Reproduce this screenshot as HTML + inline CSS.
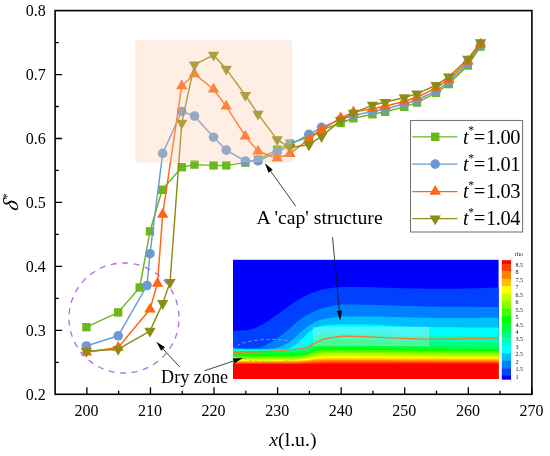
<!DOCTYPE html>
<html lang="en">
<head>
<meta charset="utf-8">
<title>Film thickness profile</title>
<style>
html,body{margin:0;padding:0;background:#fff;}
body{width:550px;height:456px;overflow:hidden;font-family:"Liberation Serif",serif;}
svg{display:block;}
</style>
</head>
<body>
<svg width="550" height="456" viewBox="0 0 550 456">
<g>
<rect x="233.0" y="259.8" width="265.6" height="119.2" fill="#0000ff"/>
<polygon fill="#0040ff" points="233,330.9 235.44,330.87 237.87,330.77 240.31,330.62 242.75,330.42 245.18,330.18 247.62,329.9 250.06,329.59 252.49,329.06 254.93,328.2 257.37,327.07 259.8,325.78 262.24,324.39 264.68,323 267.11,321.6 269.55,320.03 271.99,318.31 274.42,316.52 276.86,314.69 279.3,312.9 281.73,311.18 284.17,309.47 286.61,307.76 289.04,306.05 291.48,304.29 293.92,302.56 296.35,300.94 298.79,299.43 301.23,298 303.66,296.67 306.1,295.41 308.54,294.22 310.97,293.17 313.41,292.25 315.85,291.44 318.28,290.72 320.72,290.09 323.16,289.5 325.59,288.96 328.03,288.5 330.47,288.14 332.9,287.8 335.34,287.48 337.78,287.2 340.21,287 342.65,286.9 345.09,286.9 347.52,286.91 349.96,286.93 352.4,286.95 354.83,286.97 357.27,287 359.71,287.03 362.14,287.06 364.58,287.09 367.02,287.13 369.46,287.18 371.89,287.25 374.33,287.32 376.77,287.4 379.2,287.48 381.64,287.57 384.08,287.66 386.51,287.76 388.95,287.85 391.39,287.94 393.82,288.02 396.26,288.1 398.7,288.17 401.13,288.23 403.57,288.29 406.01,288.35 408.44,288.41 410.88,288.46 413.32,288.51 415.75,288.55 418.19,288.59 420.63,288.6 423.06,288.62 425.5,288.63 427.94,288.64 430.37,288.65 432.81,288.66 435.25,288.67 437.68,288.68 440.12,288.69 442.56,288.69 444.99,288.7 447.43,288.7 449.87,288.7 452.3,288.7 454.74,288.69 457.18,288.67 459.61,288.64 462.05,288.61 464.49,288.57 466.92,288.53 469.36,288.48 471.8,288.42 474.23,288.36 476.67,288.29 479.11,288.22 481.54,288.14 483.98,288.06 486.42,287.98 488.85,287.89 491.29,287.79 493.73,287.7 496.16,287.6 498.6,287.5 498.6,379.0 233,379.0"/>
<polygon fill="#0080ff" points="233,348.2 235.44,348.27 237.87,348.33 240.31,348.36 242.75,348.38 245.18,348.4 247.62,348.4 250.06,348.4 252.49,348.37 254.93,348.27 257.37,348.13 259.8,347.88 262.24,347 264.68,345.76 267.11,344.53 269.55,343.17 271.99,341.68 274.42,340.08 276.86,338.42 279.3,336.7 281.73,334.95 284.17,333.08 286.61,331.1 289.04,329.04 291.48,326.79 293.92,324.5 296.35,322.4 298.79,320.5 301.23,318.72 303.66,317.09 306.1,315.58 308.54,314.19 310.97,312.91 313.41,311.74 315.85,310.65 318.28,309.69 320.72,308.86 323.16,308.11 325.59,307.42 328.03,306.82 330.47,306.31 332.9,305.8 335.34,305.31 337.78,304.88 340.21,304.56 342.65,304.41 345.09,304.4 347.52,304.42 349.96,304.44 352.4,304.47 354.83,304.51 357.27,304.56 359.71,304.6 362.14,304.65 364.58,304.69 367.02,304.74 369.46,304.79 371.89,304.85 374.33,304.91 376.77,304.98 379.2,305.05 381.64,305.12 384.08,305.2 386.51,305.28 388.95,305.36 391.39,305.43 393.82,305.51 396.26,305.59 398.7,305.66 401.13,305.73 403.57,305.81 406.01,305.89 408.44,305.97 410.88,306.05 413.32,306.12 415.75,306.19 418.19,306.26 420.63,306.31 423.06,306.37 425.5,306.42 427.94,306.47 430.37,306.53 432.81,306.58 435.25,306.62 437.68,306.66 440.12,306.7 442.56,306.74 444.99,306.76 447.43,306.79 449.87,306.8 452.3,306.81 454.74,306.82 457.18,306.83 459.61,306.83 462.05,306.84 464.49,306.85 466.92,306.86 469.36,306.86 471.8,306.87 474.23,306.87 476.67,306.88 479.11,306.88 481.54,306.89 483.98,306.89 486.42,306.89 488.85,306.9 491.29,306.9 493.73,306.9 496.16,306.9 498.6,306.9 498.6,379.0 233,379.0"/>
<polygon fill="#00bfff" points="233,348.7 235.44,348.74 237.87,348.78 240.31,348.82 242.75,348.85 245.18,348.88 247.62,348.89 250.06,348.9 252.49,348.9 254.93,348.9 257.37,348.9 259.8,348.9 262.24,348.9 264.68,348.9 267.11,348.88 269.55,348.78 271.99,348.62 274.42,348.38 276.86,348.02 279.3,347.04 281.73,345.96 284.17,344.86 286.61,343.63 289.04,342.19 291.48,340.4 293.92,338.37 296.35,336.28 298.79,334.09 301.23,331.82 303.66,329.71 306.1,327.82 308.54,326.05 310.97,324.46 313.41,323.01 315.85,321.66 318.28,320.58 320.72,319.83 323.16,319.23 325.59,318.72 328.03,318.3 330.47,317.93 332.9,317.58 335.34,317.25 337.78,316.96 340.21,316.74 342.65,316.61 345.09,316.57 347.52,316.53 349.96,316.5 352.4,316.47 354.83,316.44 357.27,316.43 359.71,316.41 362.14,316.4 364.58,316.4 367.02,316.4 369.46,316.42 371.89,316.44 374.33,316.48 376.77,316.52 379.2,316.57 381.64,316.62 384.08,316.68 386.51,316.74 388.95,316.81 391.39,316.87 393.82,316.94 396.26,317 398.7,317.07 401.13,317.13 403.57,317.2 406.01,317.28 408.44,317.37 410.88,317.45 413.32,317.53 415.75,317.61 418.19,317.67 420.63,317.71 423.06,317.75 425.5,317.78 427.94,317.82 430.37,317.85 432.81,317.88 435.25,317.91 437.68,317.94 440.12,317.96 442.56,317.98 444.99,317.99 447.43,318 449.87,318 452.3,318 454.74,318 457.18,317.99 459.61,317.99 462.05,317.98 464.49,317.97 466.92,317.96 469.36,317.95 471.8,317.94 474.23,317.92 476.67,317.9 479.11,317.88 481.54,317.85 483.98,317.83 486.42,317.8 488.85,317.76 491.29,317.73 493.73,317.69 496.16,317.65 498.6,317.6 498.6,379.0 233,379.0"/>
<polygon fill="#00ffff" points="233,349.2 235.44,349.24 237.87,349.28 240.31,349.32 242.75,349.35 245.18,349.38 247.62,349.39 250.06,349.4 252.49,349.4 254.93,349.4 257.37,349.4 259.8,349.4 262.24,349.4 264.68,349.4 267.11,349.4 269.55,349.39 271.99,349.38 274.42,349.37 276.86,349.34 279.3,349.32 281.73,349.27 284.17,349.12 286.61,348.86 289.04,348.47 291.48,347.46 293.92,345.92 296.35,344.22 298.79,342.16 301.23,339.73 303.66,337.33 306.1,334.97 308.54,332.59 310.97,330.58 313.41,329.05 315.85,327.72 318.28,326.73 320.72,326.12 323.16,325.62 325.59,325.21 328.03,324.93 330.47,324.78 332.9,324.69 335.34,324.62 337.78,324.56 340.21,324.52 342.65,324.5 345.09,324.5 347.52,324.5 349.96,324.5 352.4,324.5 354.83,324.5 357.27,324.5 359.71,324.5 362.14,324.5 364.58,324.5 367.02,324.51 369.46,324.56 371.89,324.65 374.33,324.76 376.77,324.89 379.2,325.04 381.64,325.2 384.08,325.37 386.51,325.54 388.95,325.71 391.39,325.87 393.82,326.01 396.26,326.15 398.7,326.25 401.13,326.34 403.57,326.41 406.01,326.48 408.44,326.54 410.88,326.6 413.32,326.66 415.75,326.71 418.19,326.76 420.63,326.81 423.06,326.86 425.5,326.91 427.94,326.96 430.37,327.01 432.81,327.06 435.25,327.1 437.68,327.15 440.12,327.19 442.56,327.22 444.99,327.25 447.43,327.28 449.87,327.3 452.3,327.32 454.74,327.33 457.18,327.35 459.61,327.36 462.05,327.38 464.49,327.39 466.92,327.41 469.36,327.42 471.8,327.43 474.23,327.44 476.67,327.45 479.11,327.46 481.54,327.47 483.98,327.48 486.42,327.48 488.85,327.49 491.29,327.49 493.73,327.5 496.16,327.5 498.6,327.5 498.6,379.0 233,379.0"/>
<polygon fill="#00ffbf" points="233,349.8 235.44,349.82 237.87,349.84 240.31,349.86 242.75,349.88 245.18,349.89 247.62,349.9 250.06,349.9 252.49,349.9 254.93,349.9 257.37,349.9 259.8,349.9 262.24,349.9 264.68,349.9 267.11,349.9 269.55,349.89 271.99,349.88 274.42,349.86 276.86,349.84 279.3,349.82 281.73,349.79 284.17,349.74 286.61,349.67 289.04,349.57 291.48,349.41 293.92,349.17 296.35,348.86 298.79,348.36 301.23,347.63 303.66,346.75 306.1,345.64 308.54,344.1 310.97,341.57 313.41,339.18 315.85,337.36 318.28,335.99 320.72,335.25 323.16,334.67 325.59,334.22 328.03,333.92 330.47,333.79 332.9,333.72 335.34,333.67 337.78,333.64 340.21,333.61 342.65,333.6 345.09,333.61 347.52,333.63 349.96,333.66 352.4,333.7 354.83,333.76 357.27,333.81 359.71,333.87 362.14,333.93 364.58,333.99 367.02,334.05 369.46,334.11 371.89,334.17 374.33,334.24 376.77,334.31 379.2,334.38 381.64,334.45 384.08,334.53 386.51,334.6 388.95,334.68 391.39,334.75 393.82,334.83 396.26,334.9 398.7,334.96 401.13,335.03 403.57,335.1 406.01,335.16 408.44,335.23 410.88,335.29 413.32,335.35 415.75,335.41 418.19,335.46 420.63,335.51 423.06,335.56 425.5,335.61 427.94,335.65 430.37,335.7 432.81,335.74 435.25,335.78 437.68,335.82 440.12,335.86 442.56,335.9 444.99,335.93 447.43,335.97 449.87,336 452.3,336.03 454.74,336.06 457.18,336.09 459.61,336.12 462.05,336.15 464.49,336.18 466.92,336.21 469.36,336.24 471.8,336.26 474.23,336.29 476.67,336.31 479.11,336.34 481.54,336.36 483.98,336.39 486.42,336.41 488.85,336.43 491.29,336.45 493.73,336.47 496.16,336.48 498.6,336.5 498.6,379.0 233,379.0"/>
<polygon fill="#00ff80" points="233,350.65 235.44,350.67 237.87,350.69 240.31,350.71 242.75,350.72 245.18,350.74 247.62,350.74 250.06,350.75 252.49,350.75 254.93,350.75 257.37,350.75 259.8,350.75 262.24,350.75 264.68,350.75 267.11,350.75 269.55,350.74 271.99,350.73 274.42,350.72 276.86,350.71 279.3,350.69 281.73,350.68 284.17,350.66 286.61,350.62 289.04,350.57 291.48,350.49 293.92,350.36 296.35,350.19 298.79,349.89 301.23,349.44 303.66,348.89 306.1,348.18 308.54,347.14 310.97,345.28 313.41,343.54 315.85,342.26 318.28,341.31 320.72,340.84 323.16,340.47 325.59,340.17 328.03,339.97 330.47,339.9 332.9,339.87 335.34,339.84 337.78,339.82 340.21,339.81 342.65,339.8 345.09,339.81 347.52,339.83 349.96,339.86 352.4,339.89 354.83,339.93 357.27,339.98 359.71,340.03 362.14,340.07 364.58,340.12 367.02,340.16 369.46,340.21 371.89,340.26 374.33,340.32 376.77,340.37 379.2,340.43 381.64,340.49 384.08,340.55 386.51,340.61 388.95,340.67 391.39,340.72 393.82,340.78 396.26,340.84 398.7,340.89 401.13,340.94 403.57,341 406.01,341.05 408.44,341.1 410.88,341.15 413.32,341.2 415.75,341.24 418.19,341.29 420.63,341.33 423.06,341.37 425.5,341.4 427.94,341.44 430.37,341.47 432.81,341.51 435.25,341.54 437.68,341.57 440.12,341.6 442.56,341.63 444.99,341.66 447.43,341.69 449.87,341.71 452.3,341.74 454.74,341.76 457.18,341.79 459.61,341.81 462.05,341.83 464.49,341.86 466.92,341.88 469.36,341.9 471.8,341.92 474.23,341.94 476.67,341.96 479.11,341.98 481.54,342 483.98,342.02 486.42,342.04 488.85,342.05 491.29,342.07 493.73,342.08 496.16,342.1 498.6,342.11 498.6,379.0 233,379.0"/>
<polygon fill="#00ff40" points="233,351.5 235.44,351.52 237.87,351.54 240.31,351.56 242.75,351.57 245.18,351.58 247.62,351.59 250.06,351.59 252.49,351.59 254.93,351.59 257.37,351.59 259.8,351.59 262.24,351.59 264.68,351.6 267.11,351.6 269.55,351.59 271.99,351.59 274.42,351.58 276.86,351.57 279.3,351.57 281.73,351.57 284.17,351.56 286.61,351.55 289.04,351.54 291.48,351.52 293.92,351.47 296.35,351.42 298.79,351.28 301.23,351.04 303.66,350.77 306.1,350.38 308.54,349.73 310.97,348.42 313.41,347.21 315.85,346.37 318.28,345.76 320.72,345.51 323.16,345.3 325.59,345.12 328.03,345.01 330.47,344.98 332.9,344.98 335.34,344.97 337.78,344.96 340.21,344.96 342.65,344.96 345.09,344.96 347.52,344.98 349.96,345 352.4,345.03 354.83,345.07 357.27,345.1 359.71,345.14 362.14,345.18 364.58,345.21 367.02,345.25 369.46,345.28 371.89,345.32 374.33,345.37 376.77,345.41 379.2,345.45 381.64,345.5 384.08,345.55 386.51,345.59 388.95,345.64 391.39,345.69 393.82,345.73 396.26,345.78 398.7,345.82 401.13,345.86 403.57,345.9 406.01,345.94 408.44,345.98 410.88,346.02 413.32,346.06 415.75,346.09 418.19,346.13 420.63,346.16 423.06,346.19 425.5,346.22 427.94,346.25 430.37,346.27 432.81,346.3 435.25,346.32 437.68,346.35 440.12,346.37 442.56,346.4 444.99,346.42 447.43,346.44 449.87,346.46 452.3,346.48 454.74,346.5 457.18,346.52 459.61,346.54 462.05,346.55 464.49,346.57 466.92,346.59 469.36,346.61 471.8,346.62 474.23,346.64 476.67,346.66 479.11,346.67 481.54,346.69 483.98,346.7 486.42,346.71 488.85,346.73 491.29,346.74 493.73,346.75 496.16,346.76 498.6,346.77 498.6,379.0 233,379.0"/>
<polygon fill="#00ff00" points="233,353.63 235.44,353.65 237.87,353.66 240.31,353.68 242.75,353.69 245.18,353.7 247.62,353.71 250.06,353.71 252.49,353.71 254.93,353.71 257.37,353.71 259.8,353.71 262.24,353.71 264.68,353.71 267.11,353.71 269.55,353.71 271.99,353.7 274.42,353.69 276.86,353.69 279.3,353.68 281.73,353.68 284.17,353.67 286.61,353.66 289.04,353.64 291.48,353.61 293.92,353.56 296.35,353.49 298.79,353.35 301.23,353.12 303.66,352.85 306.1,352.48 308.54,351.88 310.97,350.72 313.41,349.65 315.85,348.89 318.28,348.34 320.72,348.1 323.16,347.9 325.59,347.74 328.03,347.63 330.47,347.6 332.9,347.59 335.34,347.58 337.78,347.58 340.21,347.57 342.65,347.57 345.09,347.58 347.52,347.59 349.96,347.61 352.4,347.63 354.83,347.66 357.27,347.69 359.71,347.73 362.14,347.76 364.58,347.79 367.02,347.82 369.46,347.85 371.89,347.88 374.33,347.92 376.77,347.96 379.2,348 381.64,348.04 384.08,348.08 386.51,348.12 388.95,348.16 391.39,348.2 393.82,348.23 396.26,348.27 398.7,348.31 401.13,348.34 403.57,348.38 406.01,348.41 408.44,348.45 410.88,348.48 413.32,348.51 415.75,348.55 418.19,348.57 420.63,348.6 423.06,348.63 425.5,348.65 427.94,348.68 430.37,348.7 432.81,348.72 435.25,348.74 437.68,348.77 440.12,348.79 442.56,348.81 444.99,348.83 447.43,348.84 449.87,348.86 452.3,348.88 454.74,348.89 457.18,348.91 459.61,348.93 462.05,348.94 464.49,348.96 466.92,348.97 469.36,348.99 471.8,349 474.23,349.02 476.67,349.03 479.11,349.04 481.54,349.06 483.98,349.07 486.42,349.08 488.85,349.09 491.29,349.1 493.73,349.11 496.16,349.12 498.6,349.13 498.6,379.0 233,379.0"/>
<polygon fill="#40ff00" points="233,355.62 235.44,355.63 237.87,355.65 240.31,355.66 242.75,355.67 245.18,355.67 247.62,355.68 250.06,355.68 252.49,355.68 254.93,355.68 257.37,355.68 259.8,355.68 262.24,355.68 264.68,355.68 267.11,355.68 269.55,355.68 271.99,355.67 274.42,355.67 276.86,355.66 279.3,355.65 281.73,355.65 284.17,355.63 286.61,355.62 289.04,355.59 291.48,355.55 293.92,355.48 296.35,355.4 298.79,355.23 301.23,354.99 303.66,354.69 306.1,354.3 308.54,353.72 310.97,352.65 313.41,351.66 315.85,350.94 318.28,350.42 320.72,350.17 323.16,349.96 325.59,349.8 328.03,349.69 330.47,349.66 332.9,349.65 335.34,349.63 337.78,349.62 340.21,349.62 342.65,349.61 345.09,349.62 347.52,349.63 349.96,349.65 352.4,349.67 354.83,349.69 357.27,349.72 359.71,349.75 362.14,349.78 364.58,349.8 367.02,349.83 369.46,349.86 371.89,349.89 374.33,349.92 376.77,349.95 379.2,349.98 381.64,350.02 384.08,350.05 386.51,350.09 388.95,350.12 391.39,350.16 393.82,350.19 396.26,350.22 398.7,350.26 401.13,350.29 403.57,350.32 406.01,350.35 408.44,350.38 410.88,350.41 413.32,350.44 415.75,350.46 418.19,350.49 420.63,350.51 423.06,350.53 425.5,350.56 427.94,350.58 430.37,350.6 432.81,350.62 435.25,350.64 437.68,350.66 440.12,350.67 442.56,350.69 444.99,350.71 447.43,350.72 449.87,350.74 452.3,350.75 454.74,350.77 457.18,350.78 459.61,350.8 462.05,350.81 464.49,350.82 466.92,350.84 469.36,350.85 471.8,350.86 474.23,350.87 476.67,350.89 479.11,350.9 481.54,350.91 483.98,350.92 486.42,350.93 488.85,350.94 491.29,350.95 493.73,350.96 496.16,350.96 498.6,350.97 498.6,379.0 233,379.0"/>
<polygon fill="#80ff00" points="233,357.33 235.44,357.34 237.87,357.35 240.31,357.35 242.75,357.36 245.18,357.37 247.62,357.37 250.06,357.37 252.49,357.37 254.93,357.37 257.37,357.37 259.8,357.37 262.24,357.37 264.68,357.37 267.11,357.37 269.55,357.37 271.99,357.37 274.42,357.36 276.86,357.35 279.3,357.34 281.73,357.34 284.17,357.32 286.61,357.3 289.04,357.27 291.48,357.22 293.92,357.15 296.35,357.06 298.79,356.89 301.23,356.65 303.66,356.35 306.1,355.98 308.54,355.43 310.97,354.48 313.41,353.6 315.85,352.95 318.28,352.46 320.72,352.22 323.16,352.03 325.59,351.88 328.03,351.78 330.47,351.74 332.9,351.72 335.34,351.71 337.78,351.7 340.21,351.69 342.65,351.69 345.09,351.69 347.52,351.7 349.96,351.71 352.4,351.73 354.83,351.75 357.27,351.77 359.71,351.8 362.14,351.82 364.58,351.85 367.02,351.87 369.46,351.89 371.89,351.92 374.33,351.94 376.77,351.97 379.2,352 381.64,352.03 384.08,352.06 386.51,352.09 388.95,352.12 391.39,352.15 393.82,352.18 396.26,352.2 398.7,352.23 401.13,352.26 403.57,352.28 406.01,352.31 408.44,352.34 410.88,352.36 413.32,352.38 415.75,352.41 418.19,352.43 420.63,352.45 423.06,352.47 425.5,352.49 427.94,352.51 430.37,352.52 432.81,352.54 435.25,352.56 437.68,352.57 440.12,352.59 442.56,352.6 444.99,352.62 447.43,352.63 449.87,352.64 452.3,352.65 454.74,352.67 457.18,352.68 459.61,352.69 462.05,352.7 464.49,352.71 466.92,352.73 469.36,352.74 471.8,352.75 474.23,352.76 476.67,352.77 479.11,352.78 481.54,352.79 483.98,352.8 486.42,352.8 488.85,352.81 491.29,352.82 493.73,352.83 496.16,352.83 498.6,352.84 498.6,379.0 233,379.0"/>
<polygon fill="#bfff00" points="233,358.6 235.44,358.61 237.87,358.62 240.31,358.63 242.75,358.63 245.18,358.64 247.62,358.64 250.06,358.64 252.49,358.64 254.93,358.64 257.37,358.64 259.8,358.64 262.24,358.64 264.68,358.64 267.11,358.64 269.55,358.64 271.99,358.64 274.42,358.63 276.86,358.62 279.3,358.62 281.73,358.61 284.17,358.59 286.61,358.57 289.04,358.54 291.48,358.5 293.92,358.42 296.35,358.33 298.79,358.18 301.23,357.95 303.66,357.68 306.1,357.34 308.54,356.86 310.97,356.04 313.41,355.27 315.85,354.7 318.28,354.28 320.72,354.06 323.16,353.89 325.59,353.75 328.03,353.66 330.47,353.63 332.9,353.61 335.34,353.6 337.78,353.59 340.21,353.58 342.65,353.58 345.09,353.58 347.52,353.59 349.96,353.6 352.4,353.61 354.83,353.63 357.27,353.65 359.71,353.67 362.14,353.69 364.58,353.71 367.02,353.73 369.46,353.75 371.89,353.77 374.33,353.79 376.77,353.82 379.2,353.84 381.64,353.87 384.08,353.89 386.51,353.92 388.95,353.94 391.39,353.97 393.82,353.99 396.26,354.01 398.7,354.04 401.13,354.06 403.57,354.08 406.01,354.1 408.44,354.12 410.88,354.14 413.32,354.16 415.75,354.18 418.19,354.2 420.63,354.22 423.06,354.23 425.5,354.25 427.94,354.27 430.37,354.28 432.81,354.29 435.25,354.31 437.68,354.32 440.12,354.33 442.56,354.35 444.99,354.36 447.43,354.37 449.87,354.38 452.3,354.39 454.74,354.4 457.18,354.41 459.61,354.42 462.05,354.43 464.49,354.44 466.92,354.45 469.36,354.46 471.8,354.47 474.23,354.48 476.67,354.49 479.11,354.5 481.54,354.5 483.98,354.51 486.42,354.52 488.85,354.52 491.29,354.53 493.73,354.54 496.16,354.54 498.6,354.55 498.6,379.0 233,379.0"/>
<polygon fill="#ffff00" points="233,359.74 235.44,359.75 237.87,359.75 240.31,359.76 242.75,359.76 245.18,359.77 247.62,359.77 250.06,359.77 252.49,359.77 254.93,359.77 257.37,359.77 259.8,359.77 262.24,359.77 264.68,359.77 267.11,359.77 269.55,359.77 271.99,359.76 274.42,359.76 276.86,359.75 279.3,359.75 281.73,359.74 284.17,359.73 286.61,359.71 289.04,359.69 291.48,359.65 293.92,359.6 296.35,359.52 298.79,359.4 301.23,359.22 303.66,359.01 306.1,358.74 308.54,358.37 310.97,357.73 313.41,357.13 315.85,356.69 318.28,356.37 320.72,356.2 323.16,356.07 325.59,355.96 328.03,355.89 330.47,355.87 332.9,355.85 335.34,355.84 337.78,355.84 340.21,355.83 342.65,355.83 345.09,355.83 347.52,355.84 349.96,355.84 352.4,355.86 354.83,355.87 357.27,355.89 359.71,355.9 362.14,355.92 364.58,355.93 367.02,355.95 369.46,355.96 371.89,355.98 374.33,356 376.77,356.01 379.2,356.03 381.64,356.05 384.08,356.07 386.51,356.09 388.95,356.11 391.39,356.13 393.82,356.15 396.26,356.17 398.7,356.18 401.13,356.2 403.57,356.22 406.01,356.23 408.44,356.25 410.88,356.27 413.32,356.28 415.75,356.3 418.19,356.31 420.63,356.33 423.06,356.34 425.5,356.35 427.94,356.36 430.37,356.37 432.81,356.38 435.25,356.4 437.68,356.41 440.12,356.42 442.56,356.42 444.99,356.43 447.43,356.44 449.87,356.45 452.3,356.46 454.74,356.47 457.18,356.48 459.61,356.48 462.05,356.49 464.49,356.5 466.92,356.51 469.36,356.51 471.8,356.52 474.23,356.53 476.67,356.53 479.11,356.54 481.54,356.55 483.98,356.55 486.42,356.56 488.85,356.56 491.29,356.57 493.73,356.57 496.16,356.58 498.6,356.58 498.6,379.0 233,379.0"/>
<polygon fill="#ffbf00" points="233,360.88 235.44,360.88 237.87,360.89 240.31,360.89 242.75,360.89 245.18,360.9 247.62,360.9 250.06,360.9 252.49,360.9 254.93,360.9 257.37,360.9 259.8,360.9 262.24,360.9 264.68,360.9 267.11,360.9 269.55,360.9 271.99,360.89 274.42,360.89 276.86,360.89 279.3,360.88 281.73,360.88 284.17,360.87 286.61,360.86 289.04,360.84 291.48,360.82 293.92,360.78 296.35,360.73 298.79,360.64 301.23,360.52 303.66,360.37 306.1,360.19 308.54,359.93 310.97,359.48 313.41,359.08 315.85,358.77 318.28,358.55 320.72,358.44 323.16,358.35 325.59,358.29 328.03,358.24 330.47,358.22 332.9,358.21 335.34,358.21 337.78,358.2 340.21,358.2 342.65,358.2 345.09,358.2 347.52,358.2 349.96,358.21 352.4,358.22 354.83,358.23 357.27,358.24 359.71,358.25 362.14,358.26 364.58,358.27 367.02,358.28 369.46,358.29 371.89,358.3 374.33,358.31 376.77,358.33 379.2,358.34 381.64,358.35 384.08,358.37 386.51,358.38 388.95,358.39 391.39,358.41 393.82,358.42 396.26,358.43 398.7,358.45 401.13,358.46 403.57,358.47 406.01,358.48 408.44,358.49 410.88,358.5 413.32,358.51 415.75,358.53 418.19,358.54 420.63,358.54 423.06,358.55 425.5,358.56 427.94,358.57 430.37,358.58 432.81,358.59 435.25,358.59 437.68,358.6 440.12,358.61 442.56,358.61 444.99,358.62 447.43,358.63 449.87,358.63 452.3,358.64 454.74,358.64 457.18,358.65 459.61,358.65 462.05,358.66 464.49,358.66 466.92,358.67 469.36,358.67 471.8,358.68 474.23,358.68 476.67,358.69 479.11,358.69 481.54,358.7 483.98,358.7 486.42,358.71 488.85,358.71 491.29,358.71 493.73,358.72 496.16,358.72 498.6,358.72 498.6,379.0 233,379.0"/>
<polygon fill="#ff8000" points="233,361.87 235.44,361.87 237.87,361.88 240.31,361.88 242.75,361.88 245.18,361.88 247.62,361.88 250.06,361.89 252.49,361.89 254.93,361.89 257.37,361.89 259.8,361.89 262.24,361.89 264.68,361.89 267.11,361.88 269.55,361.88 271.99,361.88 274.42,361.88 276.86,361.88 279.3,361.87 281.73,361.87 284.17,361.86 286.61,361.85 289.04,361.84 291.48,361.82 293.92,361.79 296.35,361.75 298.79,361.68 301.23,361.59 303.66,361.48 306.1,361.35 308.54,361.16 310.97,360.86 313.41,360.57 315.85,360.37 318.28,360.21 320.72,360.14 323.16,360.08 325.59,360.03 328.03,360 330.47,359.99 332.9,359.98 335.34,359.98 337.78,359.97 340.21,359.97 342.65,359.97 345.09,359.97 347.52,359.97 349.96,359.98 352.4,359.98 354.83,359.99 357.27,360 359.71,360 362.14,360.01 364.58,360.02 367.02,360.02 369.46,360.03 371.89,360.04 374.33,360.05 376.77,360.06 379.2,360.06 381.64,360.07 384.08,360.08 386.51,360.09 388.95,360.1 391.39,360.11 393.82,360.12 396.26,360.13 398.7,360.14 401.13,360.14 403.57,360.15 406.01,360.16 408.44,360.17 410.88,360.17 413.32,360.18 415.75,360.19 418.19,360.2 420.63,360.2 423.06,360.21 425.5,360.21 427.94,360.22 430.37,360.22 432.81,360.23 435.25,360.23 437.68,360.24 440.12,360.24 442.56,360.25 444.99,360.25 447.43,360.26 449.87,360.26 452.3,360.26 454.74,360.27 457.18,360.27 459.61,360.28 462.05,360.28 464.49,360.28 466.92,360.29 469.36,360.29 471.8,360.29 474.23,360.3 476.67,360.3 479.11,360.3 481.54,360.3 483.98,360.31 486.42,360.31 488.85,360.31 491.29,360.31 493.73,360.32 496.16,360.32 498.6,360.32 498.6,379.0 233,379.0"/>
<polygon fill="#ff4000" points="233,363.01 235.44,363.01 237.87,363.01 240.31,363.01 242.75,363.01 245.18,363.01 247.62,363.01 250.06,363.01 252.49,363.01 254.93,363.01 257.37,363.01 259.8,363.01 262.24,363.01 264.68,363.01 267.11,363.01 269.55,363.01 271.99,363.01 274.42,363.01 276.86,363.01 279.3,363 281.73,363 284.17,362.99 286.61,362.99 289.04,362.97 291.48,362.95 293.92,362.93 296.35,362.89 298.79,362.84 301.23,362.77 303.66,362.69 306.1,362.59 308.54,362.47 310.97,362.29 313.41,362.12 315.85,362 318.28,361.9 320.72,361.85 323.16,361.81 325.59,361.78 328.03,361.76 330.47,361.75 332.9,361.75 335.34,361.75 337.78,361.74 340.21,361.74 342.65,361.74 345.09,361.74 347.52,361.74 349.96,361.74 352.4,361.75 354.83,361.75 357.27,361.75 359.71,361.76 362.14,361.76 364.58,361.76 367.02,361.77 369.46,361.77 371.89,361.78 374.33,361.78 376.77,361.78 379.2,361.79 381.64,361.79 384.08,361.8 386.51,361.8 388.95,361.81 391.39,361.81 393.82,361.82 396.26,361.82 398.7,361.82 401.13,361.83 403.57,361.83 406.01,361.84 408.44,361.84 410.88,361.84 413.32,361.85 415.75,361.85 418.19,361.86 420.63,361.86 423.06,361.86 425.5,361.86 427.94,361.87 430.37,361.87 432.81,361.87 435.25,361.88 437.68,361.88 440.12,361.88 442.56,361.88 444.99,361.88 447.43,361.89 449.87,361.89 452.3,361.89 454.74,361.89 457.18,361.89 459.61,361.9 462.05,361.9 464.49,361.9 466.92,361.9 469.36,361.9 471.8,361.91 474.23,361.91 476.67,361.91 479.11,361.91 481.54,361.91 483.98,361.91 486.42,361.91 488.85,361.92 491.29,361.92 493.73,361.92 496.16,361.92 498.6,361.92 498.6,379.0 233,379.0"/>
<polygon fill="#ff0000" points="233,364 235.44,364 237.87,364 240.31,364 242.75,364 245.18,364 247.62,364 250.06,364 252.49,364 254.93,364 257.37,364 259.8,364 262.24,364 264.68,364 267.11,364 269.55,364 271.99,364 274.42,364 276.86,364 279.3,363.99 281.73,363.99 284.17,363.99 286.61,363.98 289.04,363.97 291.48,363.96 293.92,363.95 296.35,363.92 298.79,363.9 301.23,363.86 303.66,363.82 306.1,363.78 308.54,363.74 310.97,363.71 313.41,363.68 315.85,363.66 318.28,363.64 320.72,363.63 323.16,363.62 325.59,363.61 328.03,363.61 330.47,363.61 332.9,363.6 335.34,363.6 337.78,363.6 340.21,363.6 342.65,363.6 345.09,363.6 347.52,363.6 349.96,363.6 352.4,363.6 354.83,363.6 357.27,363.6 359.71,363.6 362.14,363.6 364.58,363.6 367.02,363.6 369.46,363.6 371.89,363.6 374.33,363.6 376.77,363.6 379.2,363.6 381.64,363.6 384.08,363.6 386.51,363.6 388.95,363.6 391.39,363.6 393.82,363.6 396.26,363.6 398.7,363.6 401.13,363.6 403.57,363.6 406.01,363.6 408.44,363.6 410.88,363.6 413.32,363.6 415.75,363.6 418.19,363.6 420.63,363.6 423.06,363.6 425.5,363.6 427.94,363.6 430.37,363.6 432.81,363.6 435.25,363.6 437.68,363.6 440.12,363.6 442.56,363.6 444.99,363.6 447.43,363.6 449.87,363.6 452.3,363.6 454.74,363.6 457.18,363.6 459.61,363.6 462.05,363.6 464.49,363.6 466.92,363.6 469.36,363.6 471.8,363.6 474.23,363.6 476.67,363.6 479.11,363.6 481.54,363.6 483.98,363.6 486.42,363.6 488.85,363.6 491.29,363.6 493.73,363.6 496.16,363.6 498.6,363.6 498.6,379.0 233,379.0"/>
<rect x="313.2" y="327.2" width="115.4" height="18.6" fill="#f4e6dc" fill-opacity="0.3" stroke="#e8c8b0" stroke-opacity="0.6" stroke-width="0.6"/>
<polyline fill="none" stroke="#e2833a" stroke-width="1.4" stroke-linejoin="round" points="233,352.4 260,351.9 280.7,350.6 303.9,348.4 307.5,347.6 313,344.2 319.1,341 324,339.2 330,337.8 343.2,336.3 348.5,336.2 365,336.6 400,338.4 420,339 440,339.1 470,338.6 498.6,337.8"/>
<ellipse cx="271" cy="350.7" rx="38" ry="11.3" fill="none" stroke="#b894bc" stroke-opacity="0.9" stroke-width="0.9" stroke-dasharray="3.5 2.5"/>
</g>
<rect x="501.8" y="260.2" width="9.2" height="4.02" fill="#ff0000"/>
<rect x="501.8" y="263.93" width="9.2" height="7.75" fill="#ff4000"/>
<rect x="501.8" y="271.38" width="9.2" height="7.75" fill="#ff8000"/>
<rect x="501.8" y="278.82" width="9.2" height="7.75" fill="#ffbf00"/>
<rect x="501.8" y="286.27" width="9.2" height="7.75" fill="#ffff00"/>
<rect x="501.8" y="293.72" width="9.2" height="7.75" fill="#bfff00"/>
<rect x="501.8" y="301.17" width="9.2" height="7.75" fill="#80ff00"/>
<rect x="501.8" y="308.62" width="9.2" height="7.75" fill="#40ff00"/>
<rect x="501.8" y="316.07" width="9.2" height="7.75" fill="#00ff00"/>
<rect x="501.8" y="323.52" width="9.2" height="7.75" fill="#00ff40"/>
<rect x="501.8" y="330.97" width="9.2" height="7.75" fill="#00ff80"/>
<rect x="501.8" y="338.42" width="9.2" height="7.75" fill="#00ffbf"/>
<rect x="501.8" y="345.87" width="9.2" height="7.75" fill="#00ffff"/>
<rect x="501.8" y="353.32" width="9.2" height="7.75" fill="#00bfff"/>
<rect x="501.8" y="360.77" width="9.2" height="7.75" fill="#0080ff"/>
<rect x="501.8" y="368.22" width="9.2" height="7.75" fill="#0040ff"/>
<rect x="501.8" y="375.67" width="9.2" height="4.02" fill="#0000ff"/>
<g font-family="'Liberation Serif', serif" font-size="6" fill="#111">
<text x="515.1" y="256">rho</text>
<text x="515.5" y="266.9">8.5</text>
<text x="515.5" y="274.35">8</text>
<text x="515.5" y="281.8">7.5</text>
<text x="515.5" y="289.25">7</text>
<text x="515.5" y="296.7">6.5</text>
<text x="515.5" y="304.15">6</text>
<text x="515.5" y="311.6">5.5</text>
<text x="515.5" y="319.05">5</text>
<text x="515.5" y="326.5">4.5</text>
<text x="515.5" y="333.95">4</text>
<text x="515.5" y="341.4">3.5</text>
<text x="515.5" y="348.85">3</text>
<text x="515.5" y="356.3">2.5</text>
<text x="515.5" y="363.75">2</text>
<text x="515.5" y="371.2">1.5</text>
<text x="515.5" y="378.65">1</text>
</g>
<g>
<polyline fill="none" stroke="#6cb71c" stroke-width="1.45" stroke-linejoin="round" points="86.4,327.2 118.19,312.4 139.7,287.5 149.97,231.3 162.2,189.8 181.75,167.2 194.47,164.6 213.54,165.4 226.25,165.4 245.33,162.6 258.04,159.5 277.11,149.6 289.82,143.5 308.89,137 321.61,130 340.68,123 353.39,118.3 372.47,114.3 385.18,111.8 404.25,106.9 416.96,102.6 436.03,92.8 448.75,84.1 467.82,65.5 480.53,46.6"/>
<rect x="82.2" y="323" width="8.4" height="8.4" fill="#6cb71c"/><rect x="113.98" y="308.2" width="8.4" height="8.4" fill="#6cb71c"/><rect x="135.5" y="283.3" width="8.4" height="8.4" fill="#6cb71c"/><rect x="145.77" y="227.1" width="8.4" height="8.4" fill="#6cb71c"/><rect x="158" y="185.6" width="8.4" height="8.4" fill="#6cb71c"/><rect x="177.56" y="163" width="8.4" height="8.4" fill="#6cb71c"/><rect x="190.27" y="160.4" width="8.4" height="8.4" fill="#6cb71c"/><rect x="209.34" y="161.2" width="8.4" height="8.4" fill="#6cb71c"/><rect x="222.05" y="161.2" width="8.4" height="8.4" fill="#6cb71c"/><rect x="241.13" y="158.4" width="8.4" height="8.4" fill="#6cb71c"/><rect x="253.84" y="155.3" width="8.4" height="8.4" fill="#6cb71c"/><rect x="272.91" y="145.4" width="8.4" height="8.4" fill="#6cb71c"/><rect x="285.62" y="139.3" width="8.4" height="8.4" fill="#6cb71c"/><rect x="304.69" y="132.8" width="8.4" height="8.4" fill="#6cb71c"/><rect x="317.41" y="125.8" width="8.4" height="8.4" fill="#6cb71c"/><rect x="336.48" y="118.8" width="8.4" height="8.4" fill="#6cb71c"/><rect x="349.19" y="114.1" width="8.4" height="8.4" fill="#6cb71c"/><rect x="368.27" y="110.1" width="8.4" height="8.4" fill="#6cb71c"/><rect x="380.98" y="107.6" width="8.4" height="8.4" fill="#6cb71c"/><rect x="400.05" y="102.7" width="8.4" height="8.4" fill="#6cb71c"/><rect x="412.76" y="98.4" width="8.4" height="8.4" fill="#6cb71c"/><rect x="431.83" y="88.6" width="8.4" height="8.4" fill="#6cb71c"/><rect x="444.55" y="79.9" width="8.4" height="8.4" fill="#6cb71c"/><rect x="463.62" y="61.3" width="8.4" height="8.4" fill="#6cb71c"/><rect x="476.33" y="42.4" width="8.4" height="8.4" fill="#6cb71c"/>
<polyline fill="none" stroke="#6a9bd3" stroke-width="1.45" stroke-linejoin="round" points="86.4,346 118.19,335.8 147,285.5 149.97,253.7 162.68,153.4 181.75,111.5 194.47,116 213.54,137.2 226.25,150.1 245.33,161 258.04,160.8 277.11,152.5 289.82,145.2 308.89,134.4 321.61,127.4 340.68,119.5 353.39,115.4 372.47,111.5 385.18,109 404.25,104 416.96,100 436.03,91 448.75,82 467.82,63.5 480.53,45.5"/>
<circle cx="86.4" cy="346" r="4.8" fill="#6a9bd3"/><circle cx="118.19" cy="335.8" r="4.8" fill="#6a9bd3"/><circle cx="147" cy="285.5" r="4.8" fill="#6a9bd3"/><circle cx="149.97" cy="253.7" r="4.8" fill="#6a9bd3"/><circle cx="162.68" cy="153.4" r="4.8" fill="#6a9bd3"/><circle cx="181.75" cy="111.5" r="4.8" fill="#6a9bd3"/><circle cx="194.47" cy="116" r="4.8" fill="#6a9bd3"/><circle cx="213.54" cy="137.2" r="4.8" fill="#6a9bd3"/><circle cx="226.25" cy="150.1" r="4.8" fill="#6a9bd3"/><circle cx="245.33" cy="161" r="4.8" fill="#6a9bd3"/><circle cx="258.04" cy="160.8" r="4.8" fill="#6a9bd3"/><circle cx="277.11" cy="152.5" r="4.8" fill="#6a9bd3"/><circle cx="289.82" cy="145.2" r="4.8" fill="#6a9bd3"/><circle cx="308.89" cy="134.4" r="4.8" fill="#6a9bd3"/><circle cx="321.61" cy="127.4" r="4.8" fill="#6a9bd3"/><circle cx="340.68" cy="119.5" r="4.8" fill="#6a9bd3"/><circle cx="353.39" cy="115.4" r="4.8" fill="#6a9bd3"/><circle cx="372.47" cy="111.5" r="4.8" fill="#6a9bd3"/><circle cx="385.18" cy="109" r="4.8" fill="#6a9bd3"/><circle cx="404.25" cy="104" r="4.8" fill="#6a9bd3"/><circle cx="416.96" cy="100" r="4.8" fill="#6a9bd3"/><circle cx="436.03" cy="91" r="4.8" fill="#6a9bd3"/><circle cx="448.75" cy="82" r="4.8" fill="#6a9bd3"/><circle cx="467.82" cy="63.5" r="4.8" fill="#6a9bd3"/><circle cx="480.53" cy="45.5" r="4.8" fill="#6a9bd3"/>
<polyline fill="none" stroke="#ff6612" stroke-width="1.45" stroke-linejoin="round" points="86.4,352.23 118.19,347.43 149.97,309.23 157.5,283.43 162.68,214.53 181.75,85.93 194.47,74.03 213.54,89.23 226.25,106.33 245.33,136.23 258.04,151.23 277.11,158.23 289.82,153.73 308.89,139.23 321.61,129.63 340.68,118.03 353.39,112.13 372.47,108.73 385.18,106.23 404.25,101.23 416.96,97.23 436.03,88.03 448.75,79.73 467.82,61.23 480.53,44.23"/>
<polygon fill="#ff6612" points="86.4,345.7 80.7,355.5 92.1,355.5"/><polygon fill="#ff6612" points="118.19,340.9 112.48,350.7 123.89,350.7"/><polygon fill="#ff6612" points="149.97,302.7 144.27,312.5 155.67,312.5"/><polygon fill="#ff6612" points="157.5,276.9 151.8,286.7 163.2,286.7"/><polygon fill="#ff6612" points="162.68,208 156.98,217.8 168.38,217.8"/><polygon fill="#ff6612" points="181.75,79.4 176.06,89.2 187.45,89.2"/><polygon fill="#ff6612" points="194.47,67.5 188.77,77.3 200.17,77.3"/><polygon fill="#ff6612" points="213.54,82.7 207.84,92.5 219.24,92.5"/><polygon fill="#ff6612" points="226.25,99.8 220.55,109.6 231.95,109.6"/><polygon fill="#ff6612" points="245.33,129.7 239.63,139.5 251.03,139.5"/><polygon fill="#ff6612" points="258.04,144.7 252.34,154.5 263.74,154.5"/><polygon fill="#ff6612" points="277.11,151.7 271.41,161.5 282.81,161.5"/><polygon fill="#ff6612" points="289.82,147.2 284.12,157 295.52,157"/><polygon fill="#ff6612" points="308.89,132.7 303.19,142.5 314.59,142.5"/><polygon fill="#ff6612" points="321.61,123.1 315.91,132.9 327.31,132.9"/><polygon fill="#ff6612" points="340.68,111.5 334.98,121.3 346.38,121.3"/><polygon fill="#ff6612" points="353.39,105.6 347.69,115.4 359.09,115.4"/><polygon fill="#ff6612" points="372.47,102.2 366.77,112 378.17,112"/><polygon fill="#ff6612" points="385.18,99.7 379.48,109.5 390.88,109.5"/><polygon fill="#ff6612" points="404.25,94.7 398.55,104.5 409.95,104.5"/><polygon fill="#ff6612" points="416.96,90.7 411.26,100.5 422.66,100.5"/><polygon fill="#ff6612" points="436.03,81.5 430.33,91.3 441.73,91.3"/><polygon fill="#ff6612" points="448.75,73.2 443.05,83 454.45,83"/><polygon fill="#ff6612" points="467.82,54.7 462.12,64.5 473.52,64.5"/><polygon fill="#ff6612" points="480.53,37.7 474.83,47.5 486.23,47.5"/>
<polyline fill="none" stroke="#8c8c16" stroke-width="1.45" stroke-linejoin="round" points="86.4,351.27 118.19,349.17 149.97,331.07 162.68,303.37 170.04,282.27 181.75,122.97 194.47,64.67 213.54,55.07 226.25,69.07 245.33,95.27 258.04,114.07 277.11,139.57 289.82,147.57 308.89,144.77 321.61,136.37 340.68,120.37 353.39,113.07 372.47,105.07 385.18,102.17 404.25,97.57 416.96,93.87 436.03,85.17 448.75,76.87 467.82,58.97 480.53,42.57"/>
<polygon fill="#8c8c16" points="86.4,357.8 80.7,348 92.1,348"/><polygon fill="#8c8c16" points="118.19,355.7 112.48,345.9 123.89,345.9"/><polygon fill="#8c8c16" points="149.97,337.6 144.27,327.8 155.67,327.8"/><polygon fill="#8c8c16" points="162.68,309.9 156.98,300.1 168.38,300.1"/><polygon fill="#8c8c16" points="170.04,288.8 164.34,279 175.74,279"/><polygon fill="#8c8c16" points="181.75,129.5 176.06,119.7 187.45,119.7"/><polygon fill="#8c8c16" points="194.47,71.2 188.77,61.4 200.17,61.4"/><polygon fill="#8c8c16" points="213.54,61.6 207.84,51.8 219.24,51.8"/><polygon fill="#8c8c16" points="226.25,75.6 220.55,65.8 231.95,65.8"/><polygon fill="#8c8c16" points="245.33,101.8 239.63,92 251.03,92"/><polygon fill="#8c8c16" points="258.04,120.6 252.34,110.8 263.74,110.8"/><polygon fill="#8c8c16" points="277.11,146.1 271.41,136.3 282.81,136.3"/><polygon fill="#8c8c16" points="289.82,154.1 284.12,144.3 295.52,144.3"/><polygon fill="#8c8c16" points="308.89,151.3 303.19,141.5 314.59,141.5"/><polygon fill="#8c8c16" points="321.61,142.9 315.91,133.1 327.31,133.1"/><polygon fill="#8c8c16" points="340.68,126.9 334.98,117.1 346.38,117.1"/><polygon fill="#8c8c16" points="353.39,119.6 347.69,109.8 359.09,109.8"/><polygon fill="#8c8c16" points="372.47,111.6 366.77,101.8 378.17,101.8"/><polygon fill="#8c8c16" points="385.18,108.7 379.48,98.9 390.88,98.9"/><polygon fill="#8c8c16" points="404.25,104.1 398.55,94.3 409.95,94.3"/><polygon fill="#8c8c16" points="416.96,100.4 411.26,90.6 422.66,90.6"/><polygon fill="#8c8c16" points="436.03,91.7 430.33,81.9 441.73,81.9"/><polygon fill="#8c8c16" points="448.75,83.4 443.05,73.6 454.45,73.6"/><polygon fill="#8c8c16" points="467.82,65.5 462.12,55.7 473.52,55.7"/><polygon fill="#8c8c16" points="480.53,49.1 474.83,39.3 486.23,39.3"/>
</g>
<rect x="135.9" y="40.9" width="155.7" height="121.0" fill="#ffc6a5" fill-opacity="0.3" stroke="#f5c4a4" stroke-opacity="0.35" stroke-width="0.8"/>
<circle cx="124" cy="318" r="55" fill="none" stroke="#b26ce2" stroke-width="1.3" stroke-dasharray="6 5.52" stroke-dashoffset="8.01"/>
<g stroke="#000" fill="none">
<rect x="55.1" y="10.6" width="476.8" height="383.7" stroke-width="1.6"/>
<path stroke-width="1.3" d="M86.89,394.3 v-7 M118.67,394.3 v-3.6 M150.46,394.3 v-7 M182.24,394.3 v-3.6 M214.03,394.3 v-7 M245.81,394.3 v-3.6 M277.6,394.3 v-7 M309.38,394.3 v-3.6 M341.17,394.3 v-7 M372.95,394.3 v-3.6 M404.74,394.3 v-7 M436.52,394.3 v-3.6 M468.31,394.3 v-7 M500.09,394.3 v-3.6 M531.88,394.3 v-7 M55.1,362.33 h3.6 M55.1,330.35 h7 M55.1,298.38 h3.6 M55.1,266.4 h7 M55.1,234.43 h3.6 M55.1,202.45 h7 M55.1,170.47 h3.6 M55.1,138.5 h7 M55.1,106.52 h3.6 M55.1,74.55 h7 M55.1,42.57 h3.6"/>
</g>
<g font-family="'Liberation Serif', serif" font-size="16" fill="#000">
<text x="86.48" y="415.6" text-anchor="middle">200</text>
<text x="150.06" y="415.6" text-anchor="middle">210</text>
<text x="213.62" y="415.6" text-anchor="middle">220</text>
<text x="277.2" y="415.6" text-anchor="middle">230</text>
<text x="340.77" y="415.6" text-anchor="middle">240</text>
<text x="404.34" y="415.6" text-anchor="middle">250</text>
<text x="467.91" y="415.6" text-anchor="middle">260</text>
<text x="531.48" y="415.6" text-anchor="middle">270</text>
<text x="45.8" y="399.6" text-anchor="end">0.2</text>
<text x="45.8" y="335.65" text-anchor="end">0.3</text>
<text x="45.8" y="271.7" text-anchor="end">0.4</text>
<text x="45.8" y="207.75" text-anchor="end">0.5</text>
<text x="45.8" y="143.8" text-anchor="end">0.6</text>
<text x="45.8" y="79.85" text-anchor="end">0.7</text>
<text x="45.8" y="15.9" text-anchor="end">0.8</text>
</g>
<g font-family="'Liberation Serif', serif" fill="#000">
<text x="269.3" y="445.9" font-size="19.8"><tspan font-style="italic">x</tspan>(l.u.)</text>
<text transform="translate(17.6,211.6) rotate(-90) skewX(-14)" font-size="21.5" font-style="italic">δ</text>
<text transform="translate(10.6,201.2) rotate(-90) skewX(-14)" font-size="12" font-style="italic">*</text>
<text x="256.4" y="223.6" font-size="19.7">A 'cap' structure</text>
<text x="161" y="382.6" font-size="18.2">Dry zone</text>
</g>
<line x1="295.8" y1="206.3" x2="270.61" y2="171.16" stroke="#111" stroke-width="0.8"/><polygon fill="#000" points="264.9,163.2 272.72,169.65 268.5,172.68"/>
<line x1="332.5" y1="237.3" x2="339.38" y2="310.64" stroke="#111" stroke-width="0.8"/><polygon fill="#000" points="340.3,320.4 336.8,310.89 341.97,310.4"/>
<line x1="179.7" y1="366.9" x2="163.07" y2="348.98" stroke="#111" stroke-width="0.8"/><polygon fill="#000" points="156.4,341.8 164.97,347.21 161.16,350.75"/>
<line x1="204.4" y1="370.8" x2="233.51" y2="361.02" stroke="#111" stroke-width="0.8"/><polygon fill="#000" points="242.8,357.9 234.34,363.49 232.68,358.56"/>
<rect x="410.5" y="120.5" width="112.1" height="111.5" fill="#fff" stroke="#777" stroke-width="1.1"/>
<line x1="412.3" y1="136.8" x2="457.5" y2="136.8" stroke="#6cb71c" stroke-width="1.2"/>
<rect x="431" y="132.6" width="8.4" height="8.4" fill="#6cb71c"/>
<text x="463" y="143.5" font-family="'Liberation Serif', serif" font-size="20.4" fill="#000"><tspan font-style="italic">t</tspan><tspan font-size="11.5" dy="-9.2" dx="-0.3">*</tspan><tspan dy="9.2" dx="-0.3">=</tspan><tspan dx="0.7" letter-spacing="-0.45">1.00</tspan></text>
<line x1="412.3" y1="164.1" x2="457.5" y2="164.1" stroke="#6a9bd3" stroke-width="1.2"/>
<circle cx="435.2" cy="164.1" r="4.8" fill="#6a9bd3"/>
<text x="463" y="170.8" font-family="'Liberation Serif', serif" font-size="20.4" fill="#000"><tspan font-style="italic">t</tspan><tspan font-size="11.5" dy="-9.2" dx="-0.3">*</tspan><tspan dy="9.2" dx="-0.3">=</tspan><tspan dx="0.7" letter-spacing="-0.45">1.01</tspan></text>
<line x1="412.3" y1="191.6" x2="457.5" y2="191.6" stroke="#ff6612" stroke-width="1.2"/>
<polygon fill="#ff6612" points="435.2,185.07 429.5,194.87 440.9,194.87"/>
<text x="463" y="198.3" font-family="'Liberation Serif', serif" font-size="20.4" fill="#000"><tspan font-style="italic">t</tspan><tspan font-size="11.5" dy="-9.2" dx="-0.3">*</tspan><tspan dy="9.2" dx="-0.3">=</tspan><tspan dx="0.7" letter-spacing="-0.45">1.03</tspan></text>
<line x1="412.3" y1="218.7" x2="457.5" y2="218.7" stroke="#8c8c16" stroke-width="1.2"/>
<polygon fill="#8c8c16" points="435.2,225.23 429.5,215.43 440.9,215.43"/>
<text x="463" y="225.4" font-family="'Liberation Serif', serif" font-size="20.4" fill="#000"><tspan font-style="italic">t</tspan><tspan font-size="11.5" dy="-9.2" dx="-0.3">*</tspan><tspan dy="9.2" dx="-0.3">=</tspan><tspan dx="0.7" letter-spacing="-0.45">1.04</tspan></text>
</svg>
</body>
</html>
